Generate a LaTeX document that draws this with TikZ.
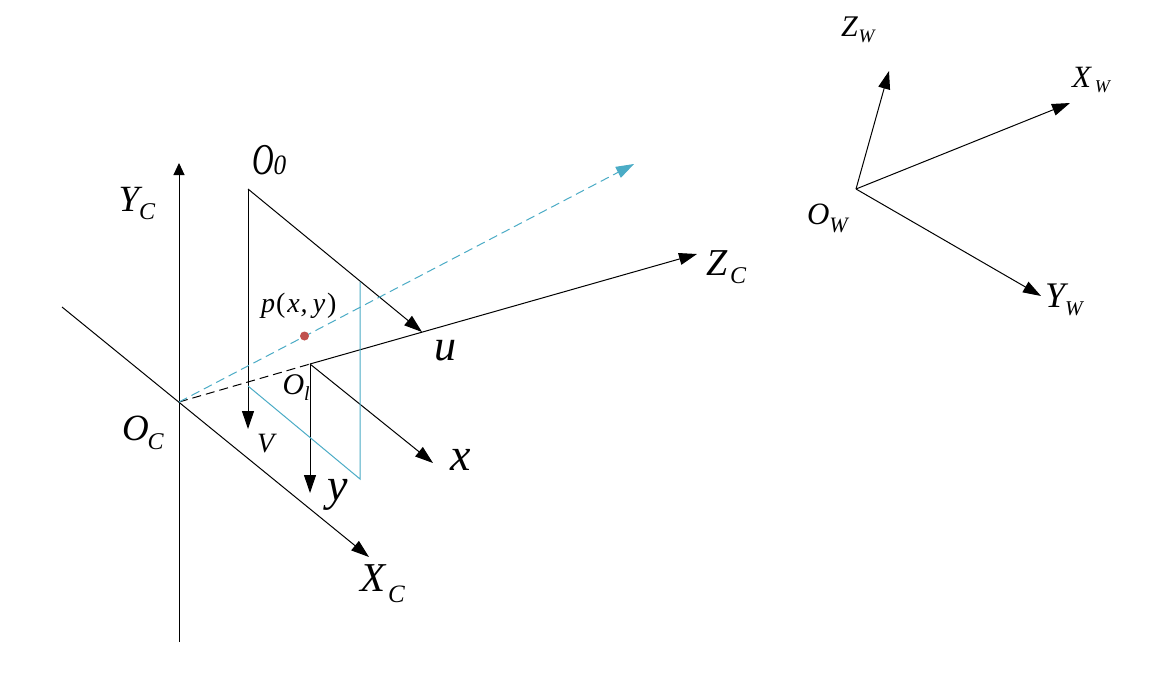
\documentclass[tikz,border=0pt]{standalone}
\usepackage{fontspec}
\setmainfont{Liberation Serif}
\usetikzlibrary{arrows.meta}
\definecolor{cyanline}{HTML}{4BACC6}
\definecolor{rayblue}{HTML}{4BACC6}
\definecolor{dotred}{HTML}{C0504D}
\tikzset{
 axis/.style={black,line width=1pt,-{Triangle[length=18pt,width=12pt]}},
 smallaxis/.style={black,line width=1pt,-{Triangle[length=12pt,width=11pt]}},
 plain/.style={black,line width=1pt},
 lab/.style={inner sep=0pt,outer sep=0pt,anchor=base west},
}
% #1 main size, #2 letter, #3 sub size, #4 sub drop, #5 gap, #6 sub letter
\newcommand{\mysub}[6]{{\fontsize{#1}{#1}\selectfont\itshape #2\kern#5pt\raisebox{-#4pt}{\fontsize{#3}{#3}\selectfont\itshape #6}}}
\begin{document}
\begin{tikzpicture}[x=1pt,y=-1pt]
\useasboundingbox (0,0) rectangle (1161,677);
\fill[white] (0,0) rectangle (1161,677);
\coordinate (Oc) at (179,402);
\coordinate (Ybot) at (179,642);
\coordinate (Ytop) at (179,163);
\coordinate (Xs) at (62,307);
\coordinate (Xe) at (369,557);
\coordinate (Ol) at (310,364);
\coordinate (Ze) at (697,254);
\coordinate (O0) at (248,189);
\coordinate (ue) at (422,332);
\coordinate (ve) at (248,429);
\coordinate (xe) at (433,463);
\coordinate (ye) at (310,493);
\coordinate (c1) at (248,386);
\coordinate (c2) at (360,479);
\coordinate (c3) at (360,282);
\coordinate (re) at (634,164);
\coordinate (Ow) at (856,189);
\coordinate (Zw) at (889,71);
\coordinate (Xw) at (1070,103);
\coordinate (Yw) at (1041,296);
\draw[smallaxis] (Ybot) -- (Ytop);
\draw[axis] (Xs) -- (Xe);
\draw[axis] (Ol) -- (Ze);
\draw[plain,dash pattern=on 9pt off 5pt] (Oc) -- (Ol);
\draw[axis] (O0) -- (ue);
\draw[axis] (O0) -- (ve);
\draw[axis] (Ol) -- (xe);
\draw[axis] (Ol) -- (ye);
\draw[cyanline,line width=1pt] (c1) -- (c2) -- (c3);
\draw[rayblue,line width=1pt,dash pattern=on 9pt off 5pt,-{Triangle[length=18pt,width=12pt]}] (Oc) -- (re);
\node[circle,fill=dotred,inner sep=0pt,minimum size=9pt] (p) at (304.5,336) {};
\draw[axis] (Ow) -- (Zw);
\draw[axis] (Ow) -- (Xw);
\draw[axis] (Ow) -- (Yw);
\node[lab] (lYc) at (118.5,211) {\mysub{37}{Y}{24}{8}{0}{C}};
\node[lab] (lZc) at (707,275) {\mysub{38}{\kern-1pt Z}{24}{8}{3}{C}};
\node[lab] (lOc) at (122,440) {\mysub{37}{O}{24}{9}{-1}{C}};
\node[lab] (lXc) at (360,591) {\mysub{41}{X}{25}{11}{3}{C}};
\node[lab] (lO0) at (252,174) {\scalebox{0.68}[1]{\fontsize{44}{44}\selectfont\itshape O}\fontsize{28}{28}\selectfont\itshape\scalebox{0.9}[1]{0}};
\node[lab] (lp) at (261,312) {\fontsize{28}{28}\selectfont\itshape p\kern1pt{\upshape(}\kern2pt x\kern1pt,\kern5pt y\kern2pt{\upshape)}};
\node[lab] (lu) at (434,360) {\fontsize{44}{44}\selectfont\itshape u};
\node[lab] (lV) at (257,452) {\fontsize{28}{28}\selectfont\itshape V};
\node[lab] (lx) at (450,470.5) {\fontsize{46}{46}\selectfont\itshape x};
\node[lab] (ly) at (327,500) {\fontsize{46}{46}\selectfont\itshape y};
\node[lab] (lOl) at (282.5,394) {\mysub{30}{O}{20}{6}{0}{l}};
\node[lab] (lZw) at (841,37) {\mysub{30}{Z}{19}{6}{1}{W}};
\node[lab] (lXw) at (1072,88) {\mysub{31}{X}{18}{5}{4}{W}};
\node[lab] (lOw) at (807,224) {\mysub{31}{O}{22}{8}{0}{W}};
\node[lab] (lYw) at (1045,307) {\mysub{36}{Y}{21}{8}{0}{W}};
\end{tikzpicture}
\end{document}
